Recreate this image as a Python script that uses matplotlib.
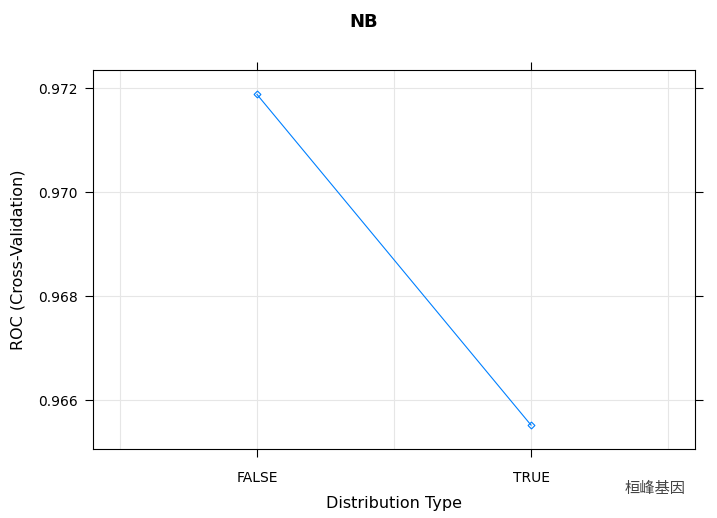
import matplotlib
matplotlib.use("Agg")
import matplotlib.pyplot as plt

categories = ["FALSE", "TRUE"]
roc_values = [0.97188, 0.96552]
yticks = [0.966, 0.968, 0.970, 0.972]

fig = plt.figure(figsize=(7.17, 5.18), dpi=100)
ax = fig.add_axes([93/717, 1-449/518, (695-93)/717, (449-70)/518])
xs = list(range(1, len(categories)+1))
for g in [0.5, 1, 1.5, 2, 2.5]:
    ax.axvline(g, color="#e6e6e6", lw=0.8, zorder=0)
for g in yticks:
    ax.axhline(g, color="#e6e6e6", lw=0.8, zorder=0)
ax.plot(xs, roc_values, color="#0080ff", lw=0.8, marker="D", ms=3.5, mfc="none", mew=0.8)
ax.set_xlim(0.4015, 2.5985)
ax.set_ylim(0.96506, 0.97235)
ax.set_xticks(xs)
ax.set_xticklabels(categories)
ax.set_yticks(yticks)
ax.set_yticklabels([f"{v:.3f}" for v in yticks])
ax.tick_params(direction="out", length=6, top=True, right=True, labelsize=10, color="black")
ax.tick_params(axis="x", pad=10)
ax.tick_params(axis="y", pad=5)
for s in ax.spines.values():
    s.set_linewidth(0.8)
ax.set_xlabel("Distribution Type", fontsize=11.5, labelpad=8)
ax.set_ylabel("ROC (Cross-Validation)", fontsize=11.5, labelpad=9)
fig.text(364/717, 1-22/518, "NB", ha="center", va="center", fontsize=13, fontweight="bold")
fig.text(655/717, 1-488/518, "桓峰基因", ha="center", va="center", fontsize=11,
         family=["Noto Sans CJK SC", "DejaVu Sans"], color="#444444")
fig.savefig("out.png", dpi=100)
